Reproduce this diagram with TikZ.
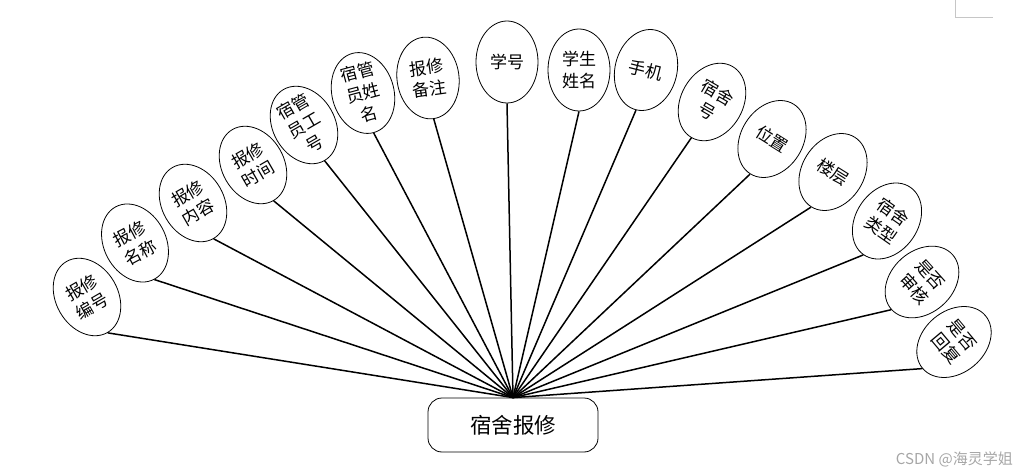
\documentclass[tikz,border=0pt]{standalone}
\usepackage{fontspec}
\setmainfont{Liberation Sans}
\newfontfamily\cjk{Noto Sans CJK SC}
\usetikzlibrary{shapes.geometric}
\begin{document}
\begin{tikzpicture}[x=1pt,y=-1pt,
  attr/.style={draw, ellipse, minimum width=62pt, minimum height=82pt, inner sep=0pt, line width=0.8pt},
  lbl/.style={font=\cjk\fontsize{17}{21.5}\selectfont, align=center, inner sep=0pt},
  conn/.style={line width=1.5pt},
  ent/.style={draw, rounded corners=14pt, minimum width=170pt, minimum height=54pt, line width=0.8pt, font=\cjk\fontsize{21.5}{25}\selectfont},
  cornermark/.style={draw=gray!45, line width=0.9pt}]
\useasboundingbox (0,0) rectangle (1029,476);

\node[ent] (main) at (513,425) {宿舍报修};

\node[attr, rotate=30] (e1) at (87,297) {};
\node[lbl, rotate=30] at (e1) {报修\\编号};
\node[attr, rotate=28] (e2) at (135,243) {};
\node[lbl, rotate=28] at (e2) {报修\\名称};
\node[attr, rotate=30] (e3) at (193,203) {};
\node[lbl, rotate=30] at (e3) {报修\\内容};
\node[attr, rotate=30] (e4) at (253,165) {};
\node[lbl, rotate=30] at (e4) {报修\\时间};
\node[attr, rotate=30] (e5) at (304,125) {};
\node[lbl, rotate=30] at (e5) {宿管\\员工\\号};
\node[attr, rotate=15] (e6) at (363,93) {};
\node[lbl, rotate=15] at (e6) {宿管\\员姓\\名};
\node[attr, rotate=8] (e7) at (428,78) {};
\node[lbl, rotate=8] at (e7) {报修\\备注};
\node[attr] (e8) at (507,62) {};
\node[lbl] at (e8) {学号};
\node[attr] (e9) at (579,70) {};
\node[lbl] at (e9) {学生\\姓名};
\node[attr, rotate=-14] (e10) at (646,70) {};
\node[lbl, rotate=-14] at (e10) {手机};
\node[attr, rotate=-30] (e11) at (712,102) {};
\node[lbl, rotate=-30] at (e11) {宿舍\\号};
\node[attr, rotate=-32] (e12) at (772,139) {};
\node[lbl, rotate=-32] at (e12) {位置};
\node[attr, rotate=-32] (e13) at (833,172) {};
\node[lbl, rotate=-32] at (e13) {楼层};
\node[attr, rotate=-35] (e14) at (887,221) {};
\node[lbl, rotate=-35] at (e14) {宿舍\\类型};
\node[attr, rotate=-48] (e15) at (922,282) {};
\node[lbl, rotate=-48] at (e15) {是否\\审核};
\node[attr, rotate=-50] (e16) at (954,342) {};
\node[lbl, rotate=-50] at (e16) {是否\\回复};

\foreach \i in {1,...,16} {
  \draw[conn] (main.north) -- (e\i.south);
}

\coordinate (c1) at (955,0);
\coordinate (c2) at (955,17);
\coordinate (c3) at (993,17);
\draw[cornermark] (c1) -- (c2) -- (c3);

\node[font=\cjk\fontsize{15}{15}\selectfont, text=gray!70, anchor=east, inner sep=0pt] (wm) at (1013,459) {CSDN @海灵学姐};
\end{tikzpicture}
\end{document}
